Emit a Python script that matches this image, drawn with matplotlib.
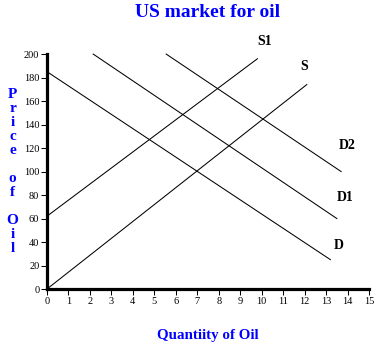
import matplotlib
matplotlib.use("Agg")
import matplotlib.pyplot as plt

# ── Curve endpoints (quantity, price) ───────────────────────────────────────
d_q = [0, 13.2]
d_p = [185, 25]
d1_q = [2.15, 13.5]
d1_p = [200, 60]
d2_q = [5.55, 13.7]
d2_p = [200, 100]
s_q = [0, 12.1]
s_p = [0, 174]
s1_q = [0, 9.8]
s1_p = [62, 196]

curve_labels = ["S1", "S", "D2", "D1", "D"]
label_q = [10.15, 12.0, 14.0, 13.9, 13.6]
label_p = [211, 189, 122, 78, 37]

x_ticks = list(range(0, 16))
y_ticks = list(range(0, 201, 20))

BLUE = "#0000ff"
SERIF = ["Liberation Serif", "DejaVu Serif"]

fig = plt.figure(figsize=(3.84, 3.51), dpi=100)
ax = fig.add_axes([0.1224, 0.1766, 0.8386, 0.6694])

for q, p in [(d_q, d_p), (d1_q, d1_p), (d2_q, d2_p), (s_q, s_p), (s1_q, s1_p)]:
    ax.plot(q, p, color="black", linewidth=0.75, clip_on=False)

for lab, q, p in zip(curve_labels, label_q, label_p):
    ax.text(q, p, lab, ha="center", va="center", fontsize=10,
            fontweight="bold", family=SERIF, color="black", clip_on=False)

ax.set_xlim(0, 15)
ax.set_ylim(0, 200)
ax.set_xticks(x_ticks)
ax.set_yticks(y_ticks)
for t in ax.get_xticklabels() + ax.get_yticklabels():
    t.set_family(SERIF)
    t.set_fontsize(7.5)
ax.tick_params(direction="out", length=4, width=0.75, pad=1.5)
for side in ["top", "right"]:
    ax.spines[side].set_visible(False)
for side in ["left", "bottom"]:
    ax.spines[side].set_linewidth(2.3)

fig.text(0.54, 0.965, "US market for oil", ha="center", va="center",
         fontsize=14, fontweight="bold", family=SERIF, color=BLUE)
fig.text(0.54, 0.045, "Quantiity of Oil", ha="center", va="center",
         fontsize=10.8, fontweight="bold", family=SERIF, color=BLUE)
fig.text(0.033, 0.51, "P\nr\ni\nc\ne\n\no\nf\n\nO\ni\nl", ha="center", va="center",
         fontsize=11, fontweight="bold", family=SERIF, color=BLUE,
         linespacing=1.1)

fig.savefig("out.png", dpi=100)
